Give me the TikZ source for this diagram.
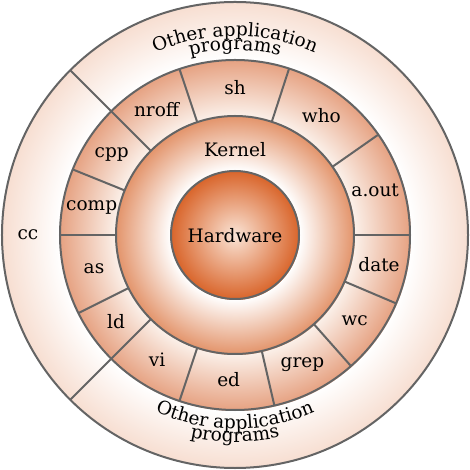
\documentclass[tikz,border=0pt]{standalone}
\usepackage{fontspec}
\setmainfont{DejaVu Serif}
\usetikzlibrary{decorations.text}
\definecolor{hwc}{HTML}{FAE4D6}
\definecolor{hwe}{HTML}{D9652B}
\definecolor{kerI}{HTML}{FFFFFF}
\definecolor{kerE}{HTML}{E3946B}
\definecolor{prgI}{HTML}{FBF0E9}
\definecolor{prgE}{HTML}{E6A282}
\definecolor{outI}{HTML}{FFFFFF}
\definecolor{outE}{HTML}{F7DED1}
\definecolor{edgegray}{HTML}{646464}
\pgfdeclareradialshading{rings}{\pgfpoint{0bp}{0bp}}{%
color(0bp)=(hwc); color(64bp)=(hwe); color(64.5bp)=(kerI);
color(119bp)=(kerE); color(119.5bp)=(prgI); color(175bp)=(prgE);
color(175.5bp)=(outI); color(233bp)=(outE); color(240bp)=(outE)}
\newcommand{\labfont}{\fontsize{18.5bp}{20bp}\selectfont}
\begin{document}
\begin{tikzpicture}[x=1bp,y=1bp,
  ringline/.style={draw=edgegray,line width=2bp},
  lab/.style={font=\labfont,inner sep=0pt,text=black}]
\useasboundingbox (-235,-235) rectangle (235,235);
\begin{scope}
\clip (0,0) circle (233);
\pgftext{\pgfuseshading{rings}}
\end{scope}
% circles
\draw[ringline] (0,0) circle (233);
\draw[ringline] (0,0) circle (175);
\draw[ringline] (0,0) circle (119);
\draw[ringline] (0,0) circle (64);
% dividers in program ring
\foreach \a in {108.5,72,35,0,-23,-48.5,-77,-108.5,206.5,180,158}
  \draw[ringline] (\a:119) -- (\a:175);
% dividers through program ring and outer ring
\foreach \a in {135,225}
  \draw[ringline] (\a:119) -- (\a:233);
% labels
\node[lab] (hw) at (0,-1) {Hardware};
\node[lab] (kernel) at (0,85) {Kernel};
\node[lab] (sh) at (90:147) {sh};
\node[lab] (nroff) at (122:148) {nroff};
\node[lab] (who) at (54:147) {who};
\node[lab] (aout) at (17.5:147) {a.out};
\node[lab] (date) at (-11.5:147) {date};
\node[lab] (wc) at (-35.5:147) {wc};
\node[lab] (grep) at (-62.5:146) {grep};
\node[lab] (ed) at (-92.5:145) {ed};
\node[lab] (vi) at (-122:147) {vi};
\node[lab] (ld) at (-144:147) {ld};
\node[lab] (as) at (193.5:145) {as};
\node[lab] (comp) at (169:146) {comp};
\node[lab] (cpp) at (147:147) {cpp};
\node[lab] (cc) at (-207,0) {cc};
% curved texts
\path[decorate,decoration={text along path,text align=center,
  text={|\labfont|Other application}}]
  (125:199) arc[start angle=125,end angle=55,radius=199];
\path[decorate,decoration={text along path,text align=center,
  text={|\labfont|programs}}]
  (125:185) arc[start angle=125,end angle=55,radius=185];
\path[decorate,decoration={text along path,text align=center,
  text={|\labfont|Other application}}]
  (235:194) arc[start angle=235,end angle=305,radius=194];
\path[decorate,decoration={text along path,text align=center,
  text={|\labfont|programs}}]
  (235:207) arc[start angle=235,end angle=305,radius=207];
\end{tikzpicture}
\end{document}
